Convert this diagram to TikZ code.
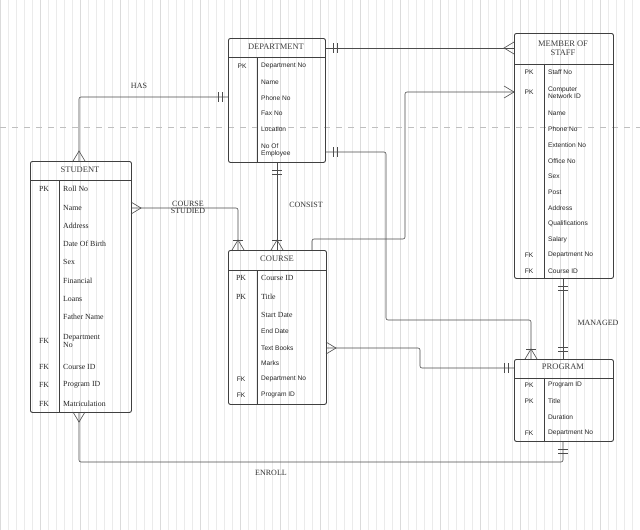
\documentclass[tikz,border=0pt]{standalone}
\usepackage{fontspec}
\setmainfont{Liberation Serif}
\newfontfamily\sfx{Liberation Sans}
\begin{document}
\begin{tikzpicture}[x=1pt,y=-1pt,
  rel/.style={draw=black!70,line width=0.6pt},
  tbl/.style={draw=black!75,line width=0.9pt,rounded corners=2pt,inner sep=0pt,anchor=north west},
  hd/.style={font=\fontsize{8.5}{9}\selectfont,text=black!75},
  sa/.style={font=\sfx\fontsize{6.6}{7.4}\selectfont,anchor=west,align=left,text=black!85,inner sep=0pt},
  se/.style={font=\fontsize{7.8}{8.5}\selectfont,anchor=west,align=left,text=black!85,inner sep=0pt},
  ky/.style={font=\sfx\fontsize{6.6}{7}\selectfont,text=black!85,inner sep=0pt},
  kys/.style={font=\fontsize{7.8}{8}\selectfont,text=black!85,inner sep=0pt},
  lb/.style={font=\fontsize{8}{9}\selectfont,text=black!80,align=center}]
\useasboundingbox (0,0) rectangle (640,530);
\fill[white] (0,0) rectangle (640,530);
\draw[black!8,step=8] (0,0) grid (640,530);
\draw[black!14,step=40] (0,0) grid (640,530);
\draw[black!25,dashed,dash pattern=on 6pt off 6pt,line width=1pt] (0,127)--(640,127);
\newcommand\mktbl[7]{%
 \node[tbl,minimum width={#3-#2},minimum height={#5-#4}] (#1) at (#2,#4) {};
 \draw[black!75,line width=0.9pt] (#2,#6)--(#3,#6) (#7,#6)--(#7,#5);}
\newcommand\cfU[2]{\draw[rel] ({#1-6},{#2})--({#1},{#2-10})--({#1+6},{#2});}
\newcommand\cfD[2]{\draw[rel] ({#1-6},{#2})--({#1},{#2+10})--({#1+6},{#2});}
\newcommand\cfL[2]{\draw[rel] ({#1},{#2-6})--({#1-10},{#2})--({#1},{#2+6});}
\newcommand\cfR[2]{\draw[rel] ({#1},{#2-6})--({#1+10},{#2})--({#1},{#2+6});}
\newcommand\bV[2]{\draw[rel] ({#1},{#2-5})--({#1},{#2+5});}
\newcommand\bH[2]{\draw[rel] ({#1-5},{#2})--({#1+5},{#2});}
% DEPARTMENT
\mktbl{dep}{228}{325}{38}{162}{57}{257}
\node[hd] at (276,47) {DEPARTMENT};
\node[ky] at (242,66) {PK};
\foreach \t/\y in {Department No/66,Name/82,Phone No/98,Fax No/113,Location/129}
  \node[sa] at (261,\y) {\t};
\node[sa] at (261,150) {No Of\\Employee};
% MEMBER
\mktbl{mem}{514}{613}{33}{278}{64}{544}
\node[hd,align=center] at (563,48) {MEMBER OF\\STAFF};
\node[ky] at (529,72) {PK};\node[ky] at (529,92) {PK};
\node[sa] at (548,72) {Staff No};
\node[sa] at (548,93) {Computer\\Network ID};
\foreach \t/\y in {Name/113,Phone No/129,Extention No/145,Office No/161,Sex/176,Post/192,Address/208,Qualifications/224,Salary/240,Department No/255,Course ID/271}
  \node[sa] at (548,\y) {\t};
\node[ky] at (529,255) {FK};\node[ky] at (529,271) {FK};
% STUDENT
\mktbl{stu}{30}{131}{161}{412}{180}{59}
\node[hd] at (80,170) {STUDENT};
\foreach \t/\y in {Roll No/189,Name/208,Address/226,Date Of Birth/244,Sex/262,Financial/281,Loans/299,Father Name/317,Course ID/367,Program ID/385,Matriculation/404}
  \node[se] at (63,\y) {\t};
\node[se] at (63,341) {Department\\No};
\node[kys] at (44,189) {PK};
\foreach \y in {341,367,385,404} \node[kys] at (44,\y) {FK};
% COURSE
\mktbl{crs}{228}{326}{250}{404}{270}{257}
\node[hd] at (277,259) {COURSE};
\node[kys] at (241,278) {PK};\node[kys] at (241,297) {PK};
\node[se] at (261,278) {Course ID};\node[se] at (261,297) {Title};\node[se] at (261,315) {Start Date};
\foreach \t/\y in {End Date/331,Text Books/348,Marks/363,Department No/379,Program ID/395}
  \node[sa] at (261,\y) {\t};
\node[ky] at (241,379) {FK};\node[ky] at (241,395) {FK};
% PROGRAM
\mktbl{prg}{514}{613}{359}{441}{378}{544}
\node[hd] at (563,367) {PROGRAM};
\foreach \k/\t/\y in {PK/Program ID/385,PK/Title/401,/Duration/417,FK/Department No/433}
  {\node[sa] at (548,\y) {\t};\node[ky] at (529,\y) {\k};}
% HAS
\draw[rel,rounded corners=2pt] (stu.north -| 79,0) |- (dep.west |- 0,97);
\cfU{79}{161}\bV{218}{97}\bV{222}{97}
\node[lb] at (139,86) {HAS};
% DEPT - MEMBER
\draw[rel] (dep.east |- 0,48) -- (mem.west |- 0,48);
\bV{333}{48}\bV{337}{48}\cfL{514}{48}
% CONSIST
\draw[rel] (dep.south -| 277,0) -- (crs.north -| 277,0);
\bH{277}{170}\bH{277}{174}\cfU{277}{250}\bH{277}{240}
\node[lb] at (306,205) {CONSIST};
% COURSE STUDIED
\draw[rel,rounded corners=2pt] (stu.east |- 0,208) -| (238,250);
\cfR{131}{208}\cfU{238}{250}\bH{238}{240}
\node[lb] at (188,207) {COURSE\\[-2pt]STUDIED};
% COURSE -> MEMBER
\draw[rel,rounded corners=2pt] (crs.north -| 312,0) |- (405,239) |- (mem.west |- 0,92);
\draw[rel] (504,86)--(514,92)--(504,98);
% DEPT -> PROGRAM
\draw[rel,rounded corners=2pt] (dep.east |- 0,152) -| (386,320) -| (prg.north -| 531,0);
\bV{333}{152}\bV{337}{152}\cfU{531}{359}\bH{531}{349}
% MANAGED
\draw[rel] (mem.south -| 563,0) -- (prg.north -| 563,0);
\bH{563}{286}\bH{563}{290}\bH{563}{347}\bH{563}{351}
\node[lb] at (598,323) {MANAGED};
% COURSE - PROGRAM
\draw[rel,rounded corners=2pt] (crs.east |- 0,348) -| (420,368) -- (prg.west |- 0,368);
\cfR{326}{348}\bV{504}{368}\bV{508}{368}
% ENROLL
\draw[rel,rounded corners=2pt] (stu.south -| 79,0) |- (563,462) -- (prg.south -| 563,0);
\cfD{79}{412}\bH{563}{449}\bH{563}{453}
\node[lb] at (271,473) {ENROLL};
\end{tikzpicture}
\end{document}
